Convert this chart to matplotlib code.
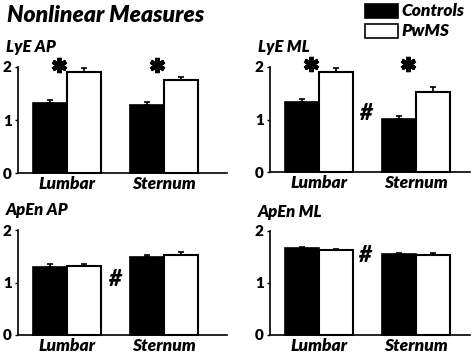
import matplotlib
matplotlib.use("Agg")
import matplotlib.pyplot as plt
from matplotlib.patches import Rectangle

W, H = 474, 357
FONT = "Lato"
WT = "heavy"

sites = ["Lumbar", "Sternum"]
groups = ["Controls", "PwMS"]

lye_ap_ctrl = [1.32, 1.28]
lye_ap_pwms = [1.90, 1.75]
lye_ap_ctrl_err = [0.06, 0.06]
lye_ap_pwms_err = [0.08, 0.07]

lye_ml_ctrl = [1.34, 1.01]
lye_ml_pwms = [1.90, 1.53]
lye_ml_ctrl_err = [0.06, 0.05]
lye_ml_pwms_err = [0.09, 0.08]

apen_ap_ctrl = [1.30, 1.48]
apen_ap_pwms = [1.32, 1.53]
apen_ap_ctrl_err = [0.05, 0.04]
apen_ap_pwms_err = [0.04, 0.05]

apen_ml_ctrl = [1.68, 1.55]
apen_ml_pwms = [1.63, 1.54]
apen_ml_ctrl_err = [0.02, 0.02]
apen_ml_pwms_err = [0.02, 0.03]

# significance marks: (x in axis data units, y value, symbol)
lye_ap_marks = [(1.2, 2.03, "*"), (4.1, 2.03, "*")]
lye_ml_marks = [(1.2, 2.05, "*"), (4.05, 2.05, "*"), (2.8, 1.12, "#")]
apen_ap_marks = [(2.85, 1.05, "#")]
apen_ml_marks = [(2.78, 1.52, "#")]

group_x = [1.45, 4.3]
BAR_PX = 34.0


def px_axes(fig, x0, x1, y_top, y_bot):
    return fig.add_axes([x0 / W, 1 - y_bot / H, (x1 - x0) / W, (y_bot - y_top) / H])


def panel(ax, title, ctrl, pwms, ctrl_err, pwms_err, marks, width_px):
    xc = [g - 0.5 for g in group_x]
    xp = [g + 0.5 for g in group_x]
    ax.bar(xc, ctrl, width=1.0, color="black", edgecolor="black", linewidth=1.2,
           clip_on=False, zorder=2)
    ax.bar(xp, pwms, width=1.0, color="white", edgecolor="black", linewidth=1.5,
           clip_on=False, zorder=2)
    ax.errorbar(xc, ctrl, yerr=[[0, 0], ctrl_err], fmt="none", ecolor="black",
                elinewidth=1.2, capsize=2, capthick=1.2, clip_on=False, zorder=3)
    ax.errorbar(xp, pwms, yerr=[[0, 0], pwms_err], fmt="none", ecolor="black",
                elinewidth=1.2, capsize=2, capthick=1.2, clip_on=False, zorder=3)
    for x, y, s in marks:
        if s == "*":
            ax.plot([x], [y], marker=(6, 2, 0), markersize=11, mew=3.2, color="black",
                    clip_on=False, zorder=4)
        else:
            ax.text(x, y, s, fontsize=16, fontweight=WT, style="italic",
                    family=FONT, ha="center", va="center", clip_on=False)
    ax.set_xlim(0, width_px / BAR_PX)
    ax.set_ylim(0, 2)
    ax.set_yticks([0, 1, 2])
    ax.set_yticklabels(["0", "1", "2"], fontsize=11, fontweight=WT, family=FONT)
    ax.set_xticks(group_x)
    ax.set_xticklabels(sites, fontsize=12.5, fontweight=WT, style="italic", family=FONT)
    ax.tick_params(axis="x", length=0, pad=2)
    ax.tick_params(axis="y", length=2.5, width=1.0, pad=2)
    for s in ["top", "right"]:
        ax.spines[s].set_visible(False)
    for s in ["left", "bottom"]:
        ax.spines[s].set_linewidth(1.2)
    ax.text(-0.02 - 8 / width_px, 1.11, title, transform=ax.transAxes, fontsize=12,
            fontweight=WT, style="italic", family=FONT, ha="left", va="bottom")


fig = plt.figure(figsize=(W / 100, H / 100), dpi=100)

ax1 = px_axes(fig, 18, 227, 67, 173)
panel(ax1, "LyE AP", lye_ap_ctrl, lye_ap_pwms, lye_ap_ctrl_err, lye_ap_pwms_err,
      lye_ap_marks, 209)
ax2 = px_axes(fig, 270, 470, 67, 172)
panel(ax2, "LyE ML", lye_ml_ctrl, lye_ml_pwms, lye_ml_ctrl_err, lye_ml_pwms_err,
      lye_ml_marks, 200)
ax3 = px_axes(fig, 18, 227, 230, 335)
panel(ax3, "ApEn AP", apen_ap_ctrl, apen_ap_pwms, apen_ap_ctrl_err, apen_ap_pwms_err,
      apen_ap_marks, 209)
ax4 = px_axes(fig, 270, 470, 231, 335)
panel(ax4, "ApEn ML", apen_ml_ctrl, apen_ml_pwms, apen_ml_ctrl_err, apen_ml_pwms_err,
      apen_ml_marks, 200)

fig.text(7 / W, 1 - 15 / H, "Nonlinear Measures", fontsize=16.5, fontweight=WT,
         style="italic", family=FONT, ha="left", va="center")

# legend drawn as boxes in figure pixels
for i, (name, fc) in enumerate(zip(groups, ["black", "white"])):
    y_top = 4 + i * 20
    fig.patches.append(Rectangle((365 / W, 1 - (y_top + 14) / H), 33 / W, 14 / H,
                                 facecolor=fc, edgecolor="black", linewidth=1.2,
                                 transform=fig.transFigure, figure=fig))
    fig.text(401 / W, 1 - (y_top + 7) / H, name, fontsize=12.5, fontweight=WT,
             style="italic", family=FONT, ha="left", va="center")

fig.savefig("out.png", dpi=100)
